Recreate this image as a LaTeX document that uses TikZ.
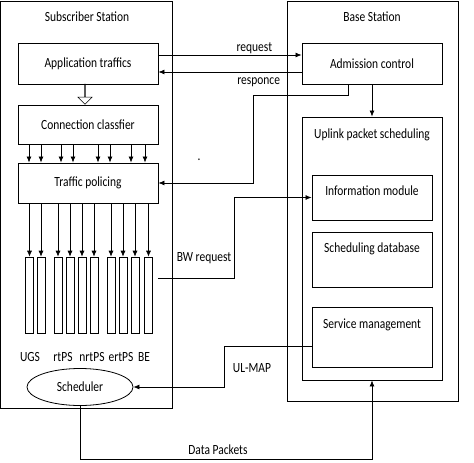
\documentclass[tikz,border=0pt]{standalone}
\usepackage{fontspec}
\setmainfont{Carlito}[FakeStretch=0.82]
\usetikzlibrary{arrows.meta,shapes.geometric,shapes.arrows}

\tikzset{
  box/.style={draw,line width=0.9pt,minimum width=140pt,minimum height=40pt,inner sep=0pt},
  module/.style={draw,line width=0.9pt,minimum width=120pt,inner sep=0pt},
  queue/.style={draw,line width=0.6pt,minimum width=8pt,minimum height=76pt,inner sep=0pt},
  conn/.style={line width=0.7pt,-{Latex[length=6pt,width=5pt]}},
  lbl/.style={inner sep=1pt}
}

\begin{document}
\begin{tikzpicture}[x=1pt,y=-1pt,font=\fontsize{14}{16}\selectfont]
  \useasboundingbox (0,0) rectangle (474,463);
  % Subscriber station
  \draw[line width=0.8pt] (0.5,1) rectangle (172,408);
  \node[lbl] (sstxt) at (87,17) {Subscriber Station};
  \node[box,minimum height=41pt] (app)  at (88,63.5)  {Application traffics};
  \node[box,minimum height=39pt] (clas) at (88,124.5) {Connection classfier};
  \node[box]                     (traf) at (88,183)   {Traffic policing};
  \node[single arrow,draw,line width=0.5pt,shape border rotate=270,minimum height=20pt,
        minimum width=14pt,single arrow head extend=4pt,inner sep=0pt] (hollow) at (85,94) {};
  \foreach \x in {29,41,61,73,98,110,131,145}
    \draw[conn] (clas.south -| \x,0) -- (traf.north -| \x,0);
  \foreach \x [count=\i] in {29.5,41,58,70,82,94,111,123,135,148.5}
  {
    \node[queue] (q\i) at (\x,295) {};
    \draw[conn] (traf.south -| q\i) -- (q\i.north);
  }
  \node[lbl] (ugs)   at (30,357)  {UGS};
  \node[lbl] (rtps)  at (63,357)  {rtPS};
  \node[lbl] (nrtps) at (92,357)  {nrtPS};
  \node[lbl] (ertps) at (121,357) {ertPS};
  \node[lbl] (be)    at (144,357) {BE};
  \node[ellipse,draw,line width=0.8pt,minimum width=106pt,minimum height=37pt,inner sep=0pt]
        (sched) at (80,387) {Scheduler};
  % Base station
  \draw[line width=0.8pt] (287,1) rectangle (458,401);
  \node[lbl] (bstxt) at (372,17) {Base Station};
  \node[box,minimum height=41pt] (adm) at (372,63.5) {Admission control};
  \node[box,minimum height=263pt] (upl) at (372,248.5) {};
  \node[lbl] (upltxt) at (372,135) {Uplink packet scheduling};
  \node[module,minimum height=45pt,label={[anchor=north,yshift=-8pt]north:Information module}]
        (info) at (372,197.5) {};
  \node[module,minimum height=55pt,label={[anchor=north,yshift=-8pt]north:Scheduling database}]
        (sdb) at (372,259.5) {};
  \node[module,minimum height=60pt,label={[anchor=north,yshift=-9pt]north:Service management}]
        (serv) at (372,337) {};
  % Connectors
  \draw[conn] ([yshift=8.5pt]app.east) -- ([yshift=8.5pt]adm.west)
        node[lbl,above,pos=0.67] {request};
  \draw[conn] ([yshift=-8.5pt]adm.west) -- ([yshift=-8.5pt]app.east)
        node[lbl,below,pos=0.3,yshift=-4pt] {responce};
  \draw[conn] (adm.south) -- (upl.north);
  \draw[conn] ([xshift=-24pt]adm.south) |- (253,95) |- (traf.east);
  \coordinate (bwstart) at (158,278);
  \coordinate (bwturn)  at (234,278);
  \draw[conn] (bwstart) -- (bwturn) |- (info.west);
  \node[lbl] (bwtxt) at (204,258) {BW request};
  \coordinate (ulturn) at (224,346);
  \draw[conn] ([yshift=-9pt]serv.west) -- (ulturn) |- (sched.east);
  \node[lbl] (ultxt) at (252,368) {UL-MAP};
  \draw[conn] (sched.south) |- ([yshift=-79pt]upl.south) -- (upl.south);
  \node[lbl] (dptxt) at (218,450) {Data Packets};
  \node[inner sep=0pt] (dot) at (199,160) {.};
\end{tikzpicture}
\end{document}
